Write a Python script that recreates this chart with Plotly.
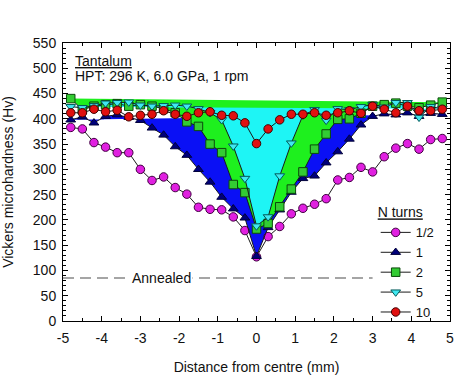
import plotly.graph_objects as go

# ---------------- data ----------------
distance_mm = [-4.8, -4.5, -4.2, -3.9, -3.6, -3.3, -3.0, -2.7, -2.4, -2.1, -1.8,
               -1.5, -1.2, -0.9, -0.6, -0.3, 0.0, 0.3, 0.6, 0.9, 1.2, 1.5,
               1.8, 2.1, 2.4, 2.7, 3.0, 3.3, 3.6, 3.9, 4.2, 4.5, 4.8]

hv_half = [383, 380, 353, 344, 333, 333, 300, 278, 285, 264, 251,
           225, 221, 220, 206, 179, 127, 167, 187, 212, 223, 231,
           242, 279, 284, 304, 295, 325, 342, 351, 340, 359, 361]

hv_1 = [398, 404, 392, 405, 408, 403, 397, 382, 368, 345, 328,
        300, 275, 245, 222, 204, 128, 185, 220, 255, 282, 287,
        313, 335, 360, 388, 405, 410, 408, 412, 405, 411, 409]

hv_2 = [440, 418, 425, 428, 430, 425, 428, 425, 420, 412, 394,
        385, 350, 333, 270, 254, 182, 193, 226, 261, 295, 340,
        370, 399, 400, 411, 425, 428, 431, 425, 422, 427, 433]

hv_5 = [424, 422, 426, 431, 432, 433, 427, 425, 426, 427, 425,
        420, 412, 398, 346, 282, 188, 206, 287, 352, 407, 418,
        397, 420, 418, 424, 428, 423, 432, 432, 403, 424, 420]

hv_10 = [412, 412, 419, 414, 417, 404, 407, 409, 416, 409, 405,
         412, 414, 407, 406, 392, 351, 380, 398, 409, 409, 412,
         407, 412, 416, 411, 425, 419, 412, 425, 416, 416, 419]

series_names = ["1/2", "1", "2", "5", "10"]
annealed_hv = 85
annealed_end_mm = 3.0

x_ticks = [-5, -4, -3, -2, -1, 0, 1, 2, 3, 4, 5]
y_ticks = [0, 50, 100, 150, 200, 250, 300, 350, 400, 450, 500, 550]

FONT = "Liberation Sans, Arial, sans-serif"

fig = go.Figure()

# filled areas (closed polygons of each profile)
fills = [(hv_1, "#0a10f5"), (hv_2, "#1ef01e"), (hv_5, "#1ef5f5")]
for vals, col in fills:
    fig.add_trace(go.Scatter(x=distance_mm, y=vals, fill="toself", fillcolor=col,
                             mode="lines", line=dict(width=0, color=col),
                             showlegend=False, hoverinfo="skip"))

styles = [
    (hv_half, "circle", "#e020e0", "#400040"),
    (hv_1, "triangle-up", "#00007a", "#00003a"),
    (hv_2, "square", "#33cc33", "#0a4a0a"),
    (hv_5, "triangle-down", "#40e8f0", "#005a5a"),
    (hv_10, "circle", "#e01010", "#400000"),
]
for name, (vals, sym, fc, ec) in zip(series_names, styles):
    fig.add_trace(go.Scatter(
        x=distance_mm, y=vals, name=name, mode="lines+markers",
        line=dict(color="#1a1a1a", width=1),
        marker=dict(symbol=sym, size=8.5, color=fc, line=dict(color=ec, width=1)),
    ))

# annealed reference line
fig.add_shape(type="line", x0=x_ticks[0], x1=annealed_end_mm, y0=annealed_hv, y1=annealed_hv,
              xref="x", yref="y", line=dict(color="#888888", width=1.5, dash="11px,6px"))
fig.add_annotation(x=-2.45, y=annealed_hv, xref="x", yref="y", text="Annealed",
                   showarrow=False, bgcolor="white", font=dict(size=14, color="#111"),
                   borderpad=1)

fig.add_annotation(x=0.026, y=0.937, xref="paper", yref="paper", text="<u>Tantalum</u>",
                   showarrow=False, xanchor="left", yanchor="middle",
                   font=dict(size=14, color="#111"))
fig.add_annotation(x=0.026, y=0.883, xref="paper", yref="paper",
                   text="HPT: 296 K, 6.0 GPa, 1 rpm",
                   showarrow=False, xanchor="left", yanchor="middle",
                   font=dict(size=14, color="#111"))

axis_common = dict(showline=True, linecolor="black", linewidth=1, mirror="allticks",
                   ticks="inside", ticklen=5, tickcolor="black", showgrid=False,
                   zeroline=False, tickfont=dict(size=14, color="#111"),
                   automargin=False)

fig.update_xaxes(range=[-5, 5], tickvals=x_ticks, ticktext=[str(t) for t in x_ticks],
                 ticklabelstandoff=4,
                 title=dict(text="Distance from centre (mm)", font=dict(size=14, color="#111"),
                            standoff=17),
                 minor=dict(ticks="inside", ticklen=3, dtick=0.5, tickcolor="black"),
                 **axis_common)
fig.update_yaxes(range=[0, 550], tickvals=y_ticks, ticktext=[str(t) for t in y_ticks],
                 ticklabelstandoff=3,
                 title=dict(text="Vickers microhardness (Hv)", font=dict(size=14, color="#111")),
                 minor=dict(ticks="inside", ticklen=3, dtick=10, tickcolor="black"),
                 **axis_common)

fig.update_layout(
    width=474, height=375,
    margin=dict(l=63, r=24, t=43, b=54, autoexpand=False),
    plot_bgcolor="white", paper_bgcolor="white",
    font=dict(family=FONT, size=14, color="#111"),
    showlegend=True,
    legend=dict(x=0.808, y=0.438, xanchor="left", yanchor="top",
                bgcolor="rgba(0,0,0,0)", font=dict(size=13),
                title=dict(text="<u>N turns</u>", side="top", font=dict(size=14)),
                itemwidth=30, tracegroupgap=0),
)

fig.write_html("out.html", config={"displayModeBar": False},
               post_script="document.body.style.margin='0';document.body.style.overflow='hidden';")
